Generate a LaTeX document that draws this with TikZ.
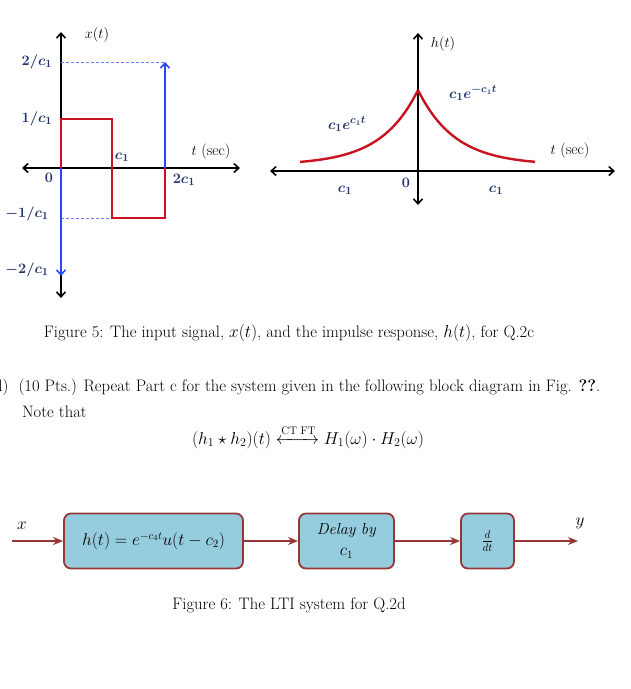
\documentclass[tikz,border=0pt]{standalone}
\usepackage{amsmath,amssymb,bm,mathtools}
\usetikzlibrary{arrows.meta}
\definecolor{lblue}{RGB}{30,50,110}
\definecolor{sred}{RGB}{200,20,30}
\definecolor{sblue}{RGB}{40,70,250}
\definecolor{bfill}{RGB}{150,205,222}
\definecolor{bdraw}{RGB}{150,55,55}
\tikzset{
 axis/.style={line width=1.6pt,black,{Straight Barb[length=5pt,width=9pt]}-{Straight Barb[length=5pt,width=9pt]}},
 lbl/.style={text=lblue,font=\fontsize{15}{18}\selectfont},
 sig/.style={line width=2.4pt,sred},
 imp/.style={line width=1.6pt,sblue,-{Straight Barb[length=5pt,width=9pt]}},
 dsh/.style={sblue!70,densely dashed,line width=0.7pt},
 blk/.style={draw=bdraw,line width=1.8pt,fill=bfill,rounded corners=7pt,minimum height=55pt,font=\fontsize{16}{19}\selectfont},
 con/.style={line width=1.8pt,bdraw,-{Stealth[length=10pt,width=8pt]}},
 txt/.style={font=\fontsize{16.6}{19}\selectfont,inner sep=0},
 plain/.style={font=\fontsize{15.5}{18}\selectfont}
}
\begin{document}
\begin{tikzpicture}[x=1pt,y=-1pt]
\useasboundingbox (0,0) rectangle (631,689);
% left plot
\coordinate (lyb) at (61,298); \coordinate (lyt) at (61,32);
\coordinate (lxl) at (22,168); \coordinate (lxr) at (240,168);
\draw[axis] (lyb) -- (lyt);
\draw[axis] (lxl) -- (lxr);
\draw[dsh] (61,62) -- (165,62);
\draw[dsh] (61,218) -- (112,218);
\draw[sig] (61,168) -- (61,119) -- (112,119) -- (112,218) -- (165,218) -- (165,168);
\draw[imp] (165,168) -- (165,62);
\draw[imp] (61,168) -- (61,276);
\node[lbl] (l2) at (37,62) {$\bm{2/c_1}$};
\node[lbl] (l1) at (37,119) {$\bm{1/c_1}$};
\node[lbl] (lm1) at (27,214) {$\bm{-1/c_1}$};
\node[lbl] (lm2) at (27,270) {$\bm{-2/c_1}$};
\node[lbl] (l0) at (49,178) {$\bm{0}$};
\node[lbl] (lc) at (122,157) {$\bm{c_1}$};
\node[lbl] (l2c) at (184,180) {$\bm{2c_1}$};
\node[plain] (lts) at (211,152) {$t$ (sec)};
\node[plain] (lxt) at (97,35) {$x(t)$};
% right plot
\coordinate (ryb) at (418,205); \coordinate (ryt) at (418,33);
\coordinate (rxl) at (270,171); \coordinate (rxr) at (615,171);
\draw[axis] (ryb) -- (ryt);
\draw[axis] (rxl) -- (rxr);
\draw[sig,domain=300:418,samples=60] plot (\x,{165-75*exp(-0.027*(418-\x))});
\draw[sig,domain=418:535,samples=60] plot (\x,{165-75*exp(-0.027*(\x-418))});
\node[plain] (rht) at (443,44) {$h(t)$};
\node[lbl] (rr) at (473,93) {$\bm{c_1e^{-c_1t}}$};
\node[lbl] (rl) at (347,124) {$\bm{c_1e^{c_1t}}$};
\node[plain] (rts) at (570,151) {$t$ (sec)};
\node[lbl] (rc1) at (345,190) {$\bm{c_1}$};
\node[lbl] (r0) at (406,183) {$\bm{0}$};
\node[lbl] (rc2) at (496,190) {$\bm{c_1}$};
% texts
\node[txt] (cap5) at (289,333) {Figure 5: The input signal, $x(t)$, and the impulse response, $h(t)$, for Q.2c};
\node[txt,anchor=west] (pd) at (-6,387) {d)\ \ (10 Pts.) Repeat Part c for the system given in the following block diagram in Fig. \textbf{??}.};
\node[txt,anchor=west] (nt) at (22,412) {Note that};
\node[txt] (eq) at (308,437) {$(h_1\star h_2)(t)\xleftrightarrow{\text{\fontsize{11}{12}\selectfont CT FT}}H_1(\omega)\cdot H_2(\omega)$};
% block diagram
\node[blk,minimum width=179pt] (b1) at (153.5,541) {$h(t)=e^{-c_4t}u(t-c_2)$};
\node[blk,minimum width=95pt,align=center] (b2) at (346.5,541) {\textit{Delay by}\\[2pt]$c_1$};
\node[blk,minimum width=53pt] (b3) at (487.5,541) {$\frac{d}{dt}$};
\coordinate (xin) at (12,541); \coordinate (yout) at (578,541);
\draw[con] (xin) -- (b1);
\draw[con] (b1) -- (b2);
\draw[con] (b2) -- (b3);
\draw[con] (b3) -- (yout);
\node[font=\fontsize{17}{20}\selectfont] (xl) at (22,526) {$x$};
\node[font=\fontsize{17}{20}\selectfont] (yl) at (580,523) {$y$};
\node[txt] (cap6) at (289,605) {Figure 6: The LTI system for Q.2d};
\end{tikzpicture}
\end{document}
